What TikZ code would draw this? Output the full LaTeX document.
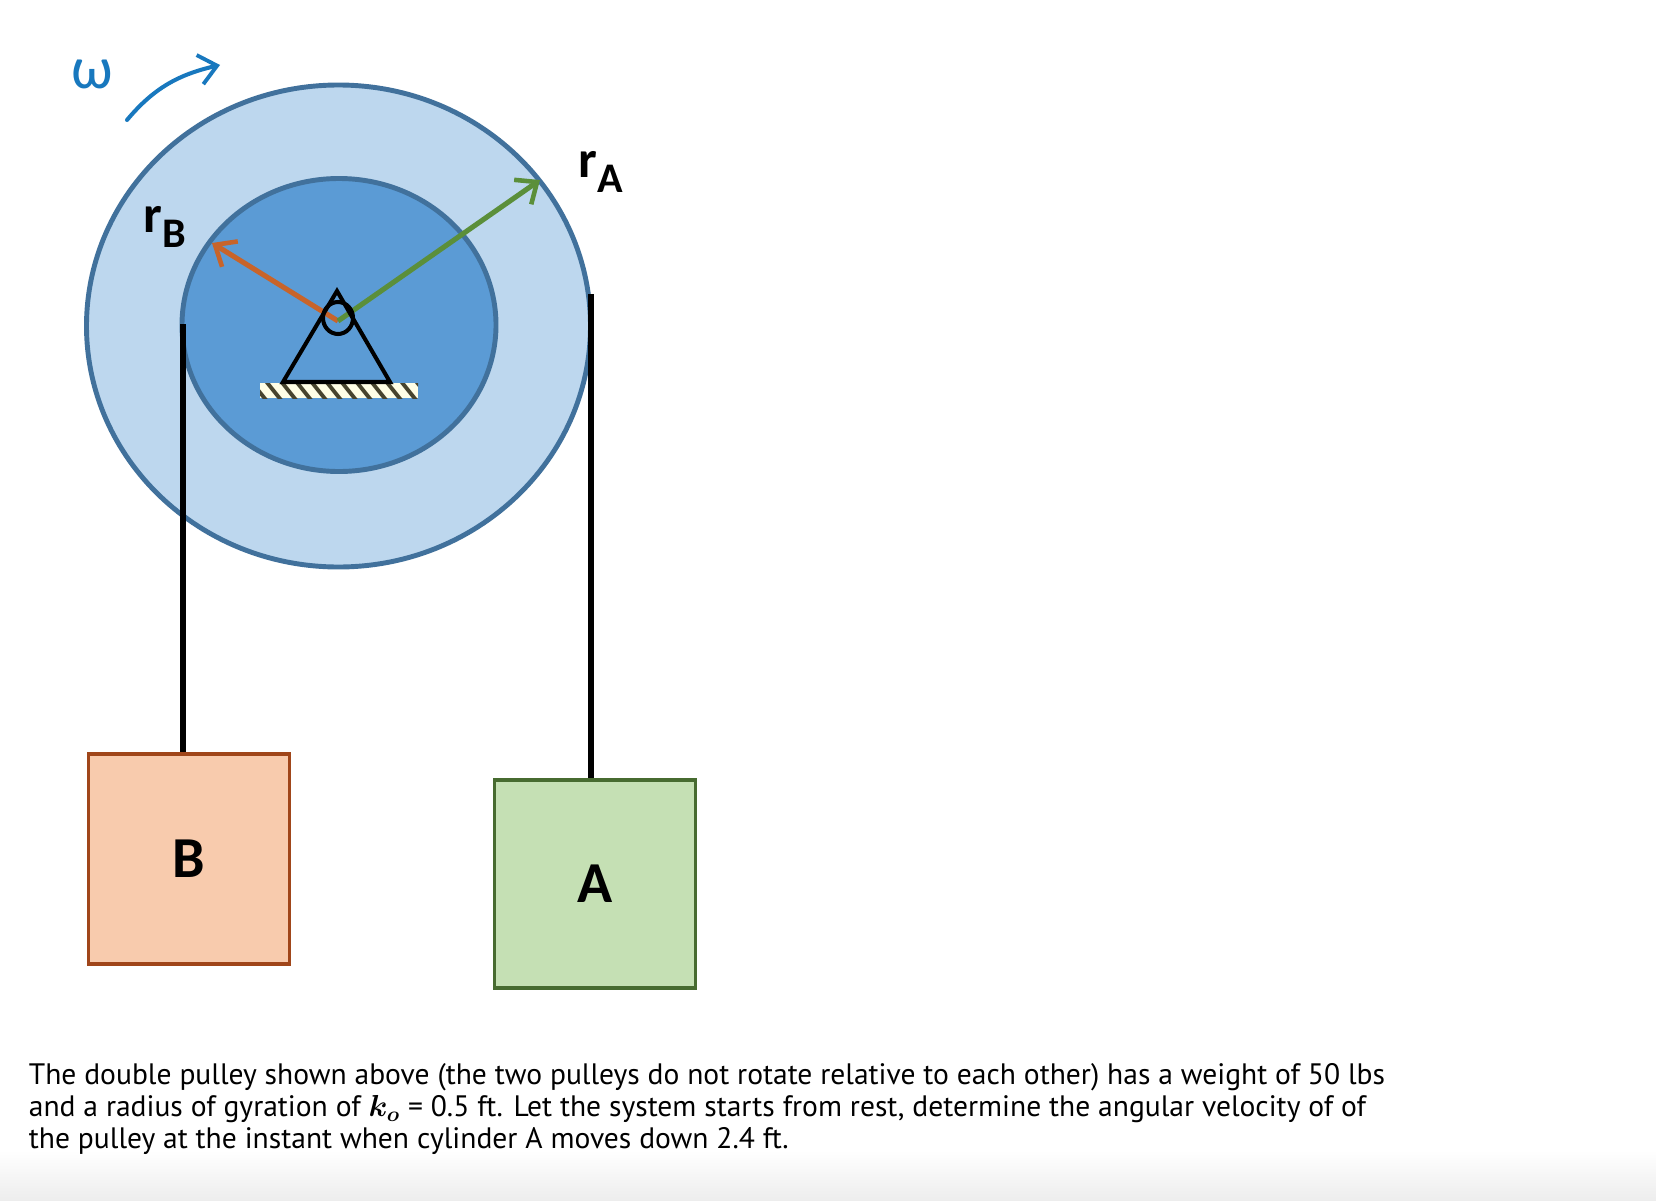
\documentclass[tikz,border=0pt]{standalone}
\usepackage{fontspec}
\setmainfont{Carlito}
\newfontfamily\problemfont{PT Sans}
\usetikzlibrary{arrows.meta}
\definecolor{rimblue}{HTML}{41719C}
\definecolor{outerfill}{HTML}{BDD7EE}
\definecolor{innerfill}{HTML}{5B9BD5}
\definecolor{omegablue}{HTML}{1878BE}
\definecolor{orangearrow}{HTML}{C8642A}
\definecolor{greenarrow}{HTML}{5B8F3A}
\definecolor{boxBfill}{HTML}{F8CBAD}
\definecolor{boxBline}{HTML}{A0461A}
\definecolor{boxAfill}{HTML}{C5E0B4}
\definecolor{boxAline}{HTML}{476B30}
\tikzset{
every picture/.style={
line width=1pt
},
block/.style={draw, line width=1.9pt, inner sep=0pt, font=\fontsize{33}{33}\selectfont\bfseries},
radius label/.style={inner sep=0pt, font=\fontsize{30}{30}\selectfont\bfseries},
rope/.style={line width=3pt, black},
radius arrow/.style={line width=2.9pt, -{Straight Barb[length=10pt,width=17pt,line width=2.6pt]}}
}

\begin{document}
\begin{tikzpicture}[x=0.02cm, y=-0.02cm]
\useasboundingbox (0,0) rectangle (1656,1200);

% bottom edge of the page
\shade [top color=white, bottom color=black!7] (0,1150) rectangle (1656,1200);

% pulley
\draw [rimblue, fill=outerfill, line width=2.8pt] (338.5,326) ellipse (252 and 241);
\draw [rimblue, fill=innerfill, line width=2.8pt] (339,325) ellipse (157 and 146.5);

\coordinate (hub) at (338,321);
\coordinate (tipA) at (540,180);
\coordinate (tipB) at (212,243);
\coordinate (topA) at (591,294);
\coordinate (topB) at (183,324);
\coordinate (omegastart) at (127,120);
\coordinate (omegaend) at (220,65);

% blocks
\node [block, fill=boxBfill, draw=boxBline, minimum width=4.03cm, minimum height=4.2cm] (boxB) at (189,859) {B};
\node [block, fill=boxAfill, draw=boxAline, minimum width=4.03cm, minimum height=4.16cm] (boxA) at (595,884) {A};

% ropes
\draw [rope] (topB) -- (topB |- boxB.north);
\draw [rope] (topA) -- (topA |- boxA.north);

% radii
\draw [radius arrow, orangearrow] (hub) -- (tipB);
\draw [radius arrow, greenarrow] (hub) -- (tipA);

% support
\fill [white!90!yellow] (260,383) rectangle (418,398);
\begin{scope}
\clip (260,383) rectangle (418,398);
\foreach \x in {250,265,...,420}{
  \draw [black!65!olive, line width=2.2pt] (\x,380) -- (\x+16,400);
}
\end{scope}
\draw [line width=2.3pt, line join=miter] (337,291) -- (390,382) -- (283,382) -- cycle;
\draw [line width=2.3pt] (338,318) ellipse (15 and 16);

% omega
\draw [omegablue, line width=2.3pt, line cap=round, -{Straight Barb[length=10pt,width=17pt,line width=2.2pt]}] (omegastart) to[out=50, in=193] (omegaend);
\node [omegablue, inner sep=0pt, font=\fontsize{34}{34}\selectfont] (omega) at (92,74) {ω};

% labels
\node [radius label] (labelB) at (165,227) {r\raisebox{-0.3em}{\fontsize{24}{24}\selectfont B}};
\node [radius label] (labelA) at (601,172) {r\raisebox{-0.3em}{\fontsize{24}{24}\selectfont A}};

% problem text
\node [anchor=north west, inner sep=0pt, align=left, font=\problemfont\fontsize{16.82}{18.2}\selectfont] (problem) at (28,1063) {The double pulley shown above (the two pulleys do not rotate relative to each other) has a weight of 50 lbs\\
and a radius of gyration of {\boldmath\fontsize{17.28}{18.2}\selectfont$k_o$} = 0.5 ft. Let the system starts from rest, determine the angular velocity of of\\
the pulley at the instant when cylinder A moves down 2.4 ft.};
\end{tikzpicture}
\end{document}
